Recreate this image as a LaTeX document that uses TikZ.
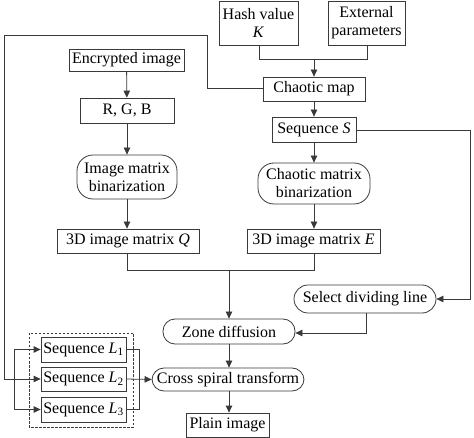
\documentclass[tikz,border=0pt]{standalone}
\usepackage{fontspec}
\setmainfont{Liberation Serif}
\usetikzlibrary{arrows.meta}
\definecolor{ln}{HTML}{3A3A3A}
\begin{document}
\begin{tikzpicture}[x=1pt,y=-1pt,
  box/.style={draw=ln, line width=0.8pt, inner sep=0pt, align=center, font=\fontsize{16}{18}\selectfont, text=black},
  rbox/.style={box, rounded corners=12pt},
  rrbox/.style={box, rounded corners=16pt},
  conn/.style={draw=ln, line width=0.8pt},
  arr/.style={conn, -{Triangle[length=7pt,width=6.5pt]}}
]
\useasboundingbox (0,0) rectangle (474,438);
% nodes
\node[box, minimum width=79pt, minimum height=44pt] (hash) at (258.5,23) {Hash value\\\textit{K}};
\node[box, minimum width=77pt, minimum height=44pt] (ext) at (366.5,23) {External\\parameters};
\node[box, minimum width=102pt, minimum height=24pt] (chaotic) at (314,89) {Chaotic map};
\node[box, minimum width=84pt, minimum height=25pt] (seqS) at (314,129.5) {Sequence \textit{S}};
\node[rrbox, minimum width=112pt, minimum height=41pt] (chbin) at (314,183.5) {Chaotic matrix\\binarization};
\node[box, minimum width=115pt, minimum height=22pt] (enc) at (126.5,60) {Encrypted image};
\node[box, minimum width=94pt, minimum height=25pt] (rgb) at (127,110.5) {R, G, B};
\node[rrbox, minimum width=100pt, minimum height=44pt] (imbin) at (127,177) {Image matrix\\binarization};
\node[box, minimum width=142pt, minimum height=24pt] (Q) at (128,241) {3D image matrix \textit{Q}};
\node[box, minimum width=133pt, minimum height=24pt] (E) at (313.5,241) {3D image matrix \textit{E}};
\node[rbox, rounded corners=14pt, minimum width=142pt, minimum height=28pt] (sel) at (365,299) {Select dividing line};
\node[rbox, minimum width=132pt, minimum height=25pt] (zone) at (229,331.5) {Zone diffusion};
\node[rbox, minimum width=152pt, minimum height=23pt] (cross) at (228,379.5) {Cross spiral transform};
\node[box, minimum width=83pt, minimum height=24pt] (plain) at (227.5,425) {Plain image};
\node[box, minimum width=85pt, minimum height=25pt] (L1) at (83.5,349.5) {Sequence \textit{L}\textsubscript{1}};
\node[box, minimum width=85pt, minimum height=24pt] (L2) at (83.5,379) {Sequence \textit{L}\textsubscript{2}};
\node[box, minimum width=85pt, minimum height=25pt] (L3) at (83.5,409.5) {Sequence \textit{L}\textsubscript{3}};
\draw[draw=ln, line width=0.7pt, dashed, dash pattern=on 2.5pt off 1.5pt] (29,333) rectangle (133,427);
% coordinates
\coordinate (hk) at (259,59);
\coordinate (ek) at (367,59);
\coordinate (mk) at (314,59);
\coordinate (c1) at (207,88);
\coordinate (c2) at (207,35);
\coordinate (c3) at (4,35);
\coordinate (c4) at (4,379);
\coordinate (s1) at (470,130);
\coordinate (s2) at (470,299);
\coordinate (qk) at (127,270);
\coordinate (ekk) at (314,270);
\coordinate (zk) at (229,270);
\coordinate (selk) at (366,333);
\coordinate (b1) at (14,349.5);
\coordinate (b3) at (14,409.5);
\coordinate (r1) at (139,349.5);
\coordinate (r3) at (139,409.5);
% connectors
\draw[conn] (hash.south -| hk) |- (ek) -- (ext.south -| ek);
\draw[arr] (mk) -- (chaotic.north);
\draw[arr] (chaotic.west |- c1) -- (c1) -- (c2) -- (c3) -- (c4) -- (L2.west);
\draw[arr] (chaotic) -- (seqS);
\draw[arr] (enc) -- (rgb);
\draw[arr] (rgb.south -| imbin.north) -- (imbin.north);
\draw[arr] (imbin.south) -- (Q.north -| imbin.south);
\draw[arr] (seqS) -- (chbin);
\draw[arr] (chbin.south) -- (E.north -| chbin.south);
\draw[arr] (seqS.east |- s1) -- (s1) -- (s2) -- (sel.east);
\draw[conn] (Q.south -| qk) -- (qk) -- (ekk) -- (E.south -| ekk);
\draw[arr] (zk) -- (zone.north);
\draw[arr] (sel.south -| selk) -- (selk) -- (zone.east |- selk);
\draw[arr] (zone.south) -- (cross.north -| zone.south);
\draw[arr] (cross.south -| zone.south) -- (plain.north -| zone.south);
\draw[arr] (b1) -- (L1.west);
\draw[arr] (b3) -- (L3.west);
\draw[conn] (b1) -- (b3);
\draw[conn] (L1.east) -- (r1) -- (r3) -- (L3.east);
\draw[arr] (L2.east) -- (cross.west);
\end{tikzpicture}
\end{document}
